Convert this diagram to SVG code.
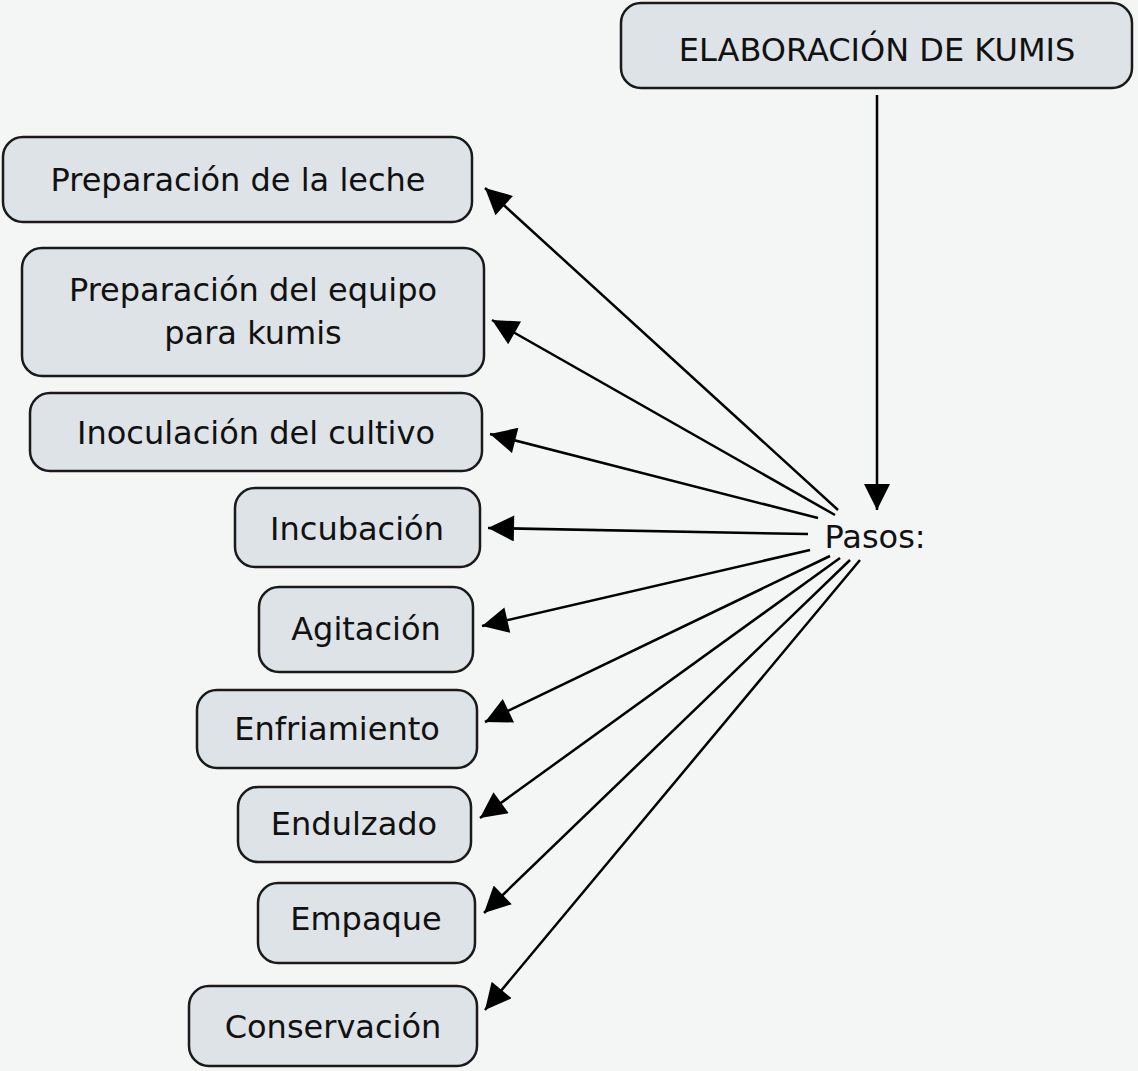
<svg xmlns="http://www.w3.org/2000/svg" width="1138" height="1071" viewBox="0 0 1138 1071">
<style>
.n rect{fill:#dde3e6;stroke:#1a1a1a;stroke-width:2.5}
text{font-family:"DejaVu Sans",Verdana,sans-serif;font-size:32px;fill:#111;text-anchor:middle}
.c line{stroke:#000;stroke-width:2.5;marker-end:url(#a)}
</style>
<defs><marker id="a" markerWidth="12" markerHeight="10" refX="11" refY="5" orient="auto" markerUnits="userSpaceOnUse" viewBox="0 0 12 10"><path d="M0,0L12,5L0,10z" fill="#000"/></marker>
<marker id="b" viewBox="0 0 10 10" refX="10" refY="5" markerWidth="30" markerHeight="26" orient="auto" markerUnits="userSpaceOnUse"><path d="M0,0L10,5L0,10z" fill="#000"/></marker></defs>
<rect width="1138" height="1071" fill="#f4f5f5"/>
<g class="c">
<line x1="877" y1="95" x2="877" y2="510" style="marker-end:url(#b)"/>
<line x1="838" y1="510" x2="485" y2="188" style="marker-end:url(#b)"/>
<line x1="835" y1="515" x2="492" y2="320" style="marker-end:url(#b)"/>
<line x1="818" y1="518" x2="490" y2="434" style="marker-end:url(#b)"/>
<line x1="808" y1="534" x2="488" y2="528" style="marker-end:url(#b)"/>
<line x1="810" y1="550" x2="482" y2="626" style="marker-end:url(#b)"/>
<line x1="830" y1="556" x2="485" y2="722" style="marker-end:url(#b)"/>
<line x1="840" y1="558" x2="480" y2="818" style="marker-end:url(#b)"/>
<line x1="850" y1="560" x2="484" y2="913" style="marker-end:url(#b)"/>
<line x1="860" y1="560" x2="485" y2="1010" style="marker-end:url(#b)"/>
</g>
<g id="title" class="n"><rect x="621" y="3" width="511" height="85" rx="20"/><text x="877" y="61">ELABORACIÓN DE KUMIS</text></g>
<g id="pasos"><text x="875" y="548">Pasos:</text></g>
<g id="n1" class="n"><rect x="3" y="137" width="469" height="85" rx="20"/><text x="238" y="191">Preparación de la leche</text></g>
<g id="n2" class="n"><rect x="22" y="248" width="462" height="128" rx="20"/><text x="253" y="301">Preparación del equipo</text><text x="253" y="344">para kumis</text></g>
<g id="n3" class="n"><rect x="30" y="393" width="452" height="78" rx="20"/><text x="256" y="444">Inoculación del cultivo</text></g>
<g id="n4" class="n"><rect x="235" y="488" width="245" height="79" rx="20"/><text x="357" y="540">Incubación</text></g>
<g id="n5" class="n"><rect x="259" y="587" width="214" height="85" rx="20"/><text x="366" y="640">Agitación</text></g>
<g id="n6" class="n"><rect x="197" y="690" width="280" height="78" rx="20"/><text x="337" y="740">Enfriamiento</text></g>
<g id="n7" class="n"><rect x="238" y="787" width="233" height="75" rx="20"/><text x="354" y="835">Endulzado</text></g>
<g id="n8" class="n"><rect x="258" y="883" width="217" height="80" rx="20"/><text x="366" y="930">Empaque</text></g>
<g id="n9" class="n"><rect x="189" y="986" width="288" height="80" rx="20"/><text x="333" y="1038">Conservación</text></g>
</svg>
